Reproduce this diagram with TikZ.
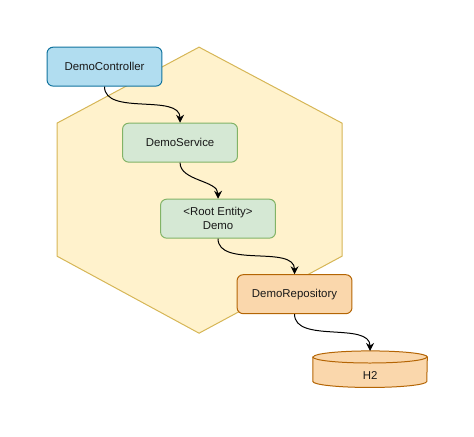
\documentclass[tikz,border=0pt]{standalone}
\usepackage[table]{xcolor}
\usepackage{tikz}
\usetikzlibrary{shapes.geometric}
\usetikzlibrary{arrows.meta}
\usepackage{fontspec}
\setmainfont{Liberation Sans}
\definecolor{ctrlfill}{HTML}{B1DDF0}
\definecolor{ctrlline}{HTML}{10739E}
\definecolor{domfill}{HTML}{D5E8D4}
\definecolor{domline}{HTML}{82B366}
\definecolor{infrafill}{HTML}{FAD7AC}
\definecolor{infraline}{HTML}{B46504}
\definecolor{hexfill}{HTML}{FFF2CC}
\definecolor{hexline}{HTML}{D6B656}

\begin{document}
\begin{tikzpicture}[
		font=\fontsize{8.6}{10.5}\selectfont,
		box/.style={shape=rectangle, rounded corners=0.16cm, line width=0.75pt, minimum width=3.04cm, minimum height=1.03cm, align=center, text=black!90},
		wire/.style={-{Stealth[length=2.1mm, width=2.1mm, inset=0.7mm]}, line width=0.75pt, out=-90, in=90, looseness=0.9}
	]
		\useasboundingbox (0,0) rectangle (12.54,11.54);
		% Hexagon:
		\draw[fill=hexfill, draw=hexline, line width=0.75pt] (5.266,10.293) -- (9.049,8.282) -- (9.049,4.763) -- (5.266,2.725) -- (1.508,4.763) -- (1.508,8.282) -- cycle;
		% Paths, nodes and wires:
		\node[box, fill=ctrlfill, draw=ctrlline](N1) at (2.765, 9.777){DemoController};
		\node[box, fill=domfill, draw=domline](N2) at (4.763, 7.766){DemoService};
		\node[box, fill=domfill, draw=domline](N3) at (5.768, 5.755){<Root Entity>\\Demo};
		\node[box, fill=infrafill, draw=infraline](N4) at (7.792, 3.757){DemoRepository};
		\node[shape=rectangle, minimum width=3.016cm, minimum height=0.953cm, inner sep=0pt](N5) at (9.790, 1.773){};
		\draw[fill=infrafill, draw=infraline, line width=0.75pt] ([yshift=-0.16cm]N5.north west) -- ([yshift=0.16cm]N5.south west) arc[start angle=180, end angle=360, x radius=1.508cm, y radius=0.16cm] -- ([yshift=-0.16cm]N5.north east) arc[start angle=0, end angle=180, x radius=1.508cm, y radius=0.16cm] -- cycle;
		\draw[draw=infraline, line width=0.75pt] ([yshift=-0.16cm]N5.north west) arc[start angle=180, end angle=360, x radius=1.508cm, y radius=0.16cm];
		\node[anchor=center, text=black!90] at (9.790, 1.60){H2};
		\draw[wire] (N1.south) to (N2.north);
		\draw[wire] (N2.south) to (N3.north);
		\draw[wire] (N3.south) to (N4.north);
		\draw[wire] (N4.south) to (N5.north);
	\end{tikzpicture}
\end{document}
